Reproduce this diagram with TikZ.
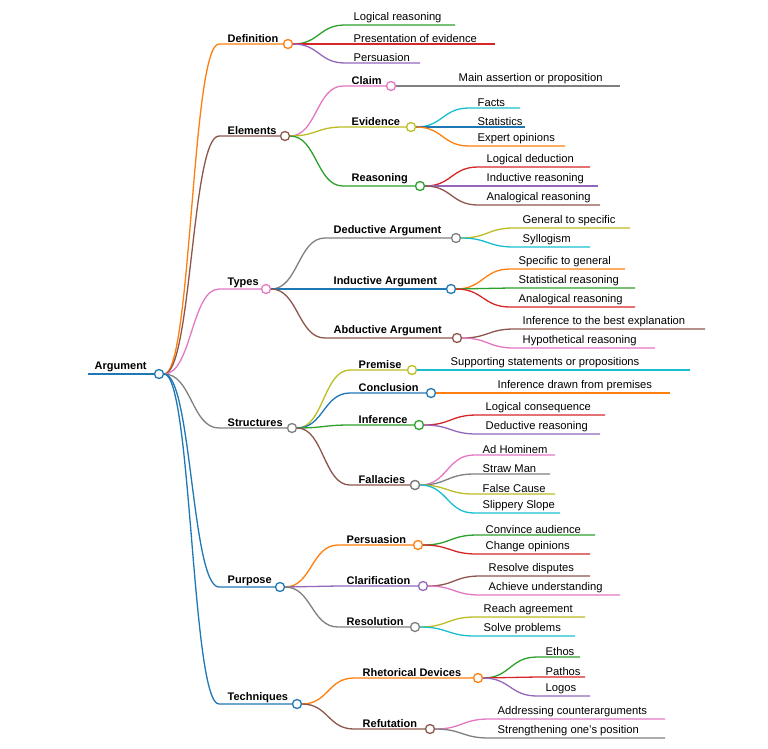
\documentclass[tikz,border=0pt]{standalone}
\usepackage{fontspec}
\setmainfont{Liberation Sans}
\usetikzlibrary{calc}
\definecolor{cO}{RGB}{255,127,14}
\definecolor{cBr}{RGB}{140,86,75}
\definecolor{cPk}{RGB}{227,119,194}
\definecolor{cGy}{RGB}{127,127,127}
\definecolor{cOl}{RGB}{188,189,34}
\definecolor{cCy}{RGB}{23,190,207}
\definecolor{cBl}{RGB}{31,119,180}
\definecolor{cGn}{RGB}{44,160,44}
\definecolor{cRd}{RGB}{214,39,40}
\definecolor{cPu}{RGB}{148,103,189}
\tikzset{
  mmline/.style={line width=1.3pt},
  mmtext/.style={anchor=south west,inner sep=1.5pt,font=\fontsize{11.2}{13}\selectfont},
  mmcirc/.style={circle,line width=1.3pt,fill=white,minimum size=9pt,inner sep=0pt}
}
\newcommand\mmleaf[7]{%
  \coordinate (#2s) at (#3,#5);
  \coordinate (#2m) at ($(#1.east)!0.5!(#2s)$);
  \draw[mmline,#6] (#1.east) .. controls (#2m |- #1.east) and (#2m |- #2s) .. (#2s) -- (#4,#5);
  \node[mmtext] (#2t) at ($(#2s)+(7,0)$) {#7};
}
\newcommand\mmbr[7]{%
  \coordinate (#2s) at (#3,#5);
  \coordinate (#2m) at ($(#1.east)!0.5!(#2s)$);
  \draw[mmline,#6] (#1.east) .. controls (#2m |- #1.east) and (#2m |- #2s) .. (#2s) -- (#4,#5);
  \node[mmtext,font=\fontsize{11}{13}\selectfont\bfseries] (#2t) at ($(#2s)+(7,0)$) {#7};
  \node[mmcirc,draw=#6] (#2) at (#4,#5) {};
}
\begin{document}
\begin{tikzpicture}[x=1pt,y=-1pt]
\useasboundingbox (0,0) rectangle (768,748);
\draw[mmline,cBl] (88,374) -- (159,374);
\node[mmtext,font=\fontsize{11}{13}\selectfont\bfseries] (roott) at (93,374) {Argument};
\node[mmcirc,draw=cBl] (root) at (159,374) {};
% level 1
\mmbr{root}{def}{219}{288}{44}{cO}{Definition}
\mmbr{root}{ele}{219}{285}{136}{cBr}{Elements}
\mmbr{root}{typ}{219}{266}{289}{cPk}{Types}
\mmbr{root}{str}{219}{292}{428}{cGy}{Structures}
\mmbr{root}{pur}{219}{280}{587}{cBl}{Purpose}
\mmbr{root}{tec}{219}{297}{704}{cBl}{Techniques}
% Definition
\mmleaf{def}{d1}{345}{455}{25}{cGn}{Logical reasoning}
\mmleaf{def}{d2}{345}{495}{44}{cRd}{Presentation of evidence}
\mmleaf{def}{d3}{345}{420}{63}{cPu}{Persuasion}
% Elements
\mmbr{ele}{cla}{343}{391}{86}{cPk}{Claim}
\mmbr{ele}{evi}{343}{411}{127}{cOl}{Evidence}
\mmbr{ele}{rea}{343}{420}{186}{cGn}{Reasoning}
\mmleaf{cla}{c1}{450}{620}{86}{cGy}{Main assertion or proposition}
\mmleaf{evi}{e1}{469}{520}{108}{cCy}{Facts}
\mmleaf{evi}{e2}{469}{525}{127}{cBl}{Statistics}
\mmleaf{evi}{e3}{469}{565}{146}{cO}{Expert opinions}
\mmleaf{rea}{r1}{478}{590}{167}{cRd}{Logical deduction}
\mmleaf{rea}{r2}{478}{598}{186}{cPu}{Inductive reasoning}
\mmleaf{rea}{r3}{478}{600}{205}{cBr}{Analogical reasoning}
% Types
\mmbr{typ}{ded}{325}{456}{238}{cGy}{Deductive Argument}
\mmbr{typ}{ind}{325}{451}{289}{cBl}{Inductive Argument}
\mmbr{typ}{abd}{325}{457}{338}{cBr}{Abductive Argument}
\mmleaf{ded}{t1}{514}{630}{228}{cOl}{General to specific}
\mmleaf{ded}{t2}{514}{590}{247}{cCy}{Syllogism}
\mmleaf{ind}{t3}{510}{625}{269}{cO}{Specific to general}
\mmleaf{ind}{t4}{510}{635}{288}{cGn}{Statistical reasoning}
\mmleaf{ind}{t5}{510}{635}{307}{cRd}{Analogical reasoning}
\mmleaf{abd}{t6}{514}{705}{329}{cBr}{Inference to the best explanation}
\mmleaf{abd}{t7}{514}{655}{348}{cPk}{Hypothetical reasoning}
% Structures
\mmbr{str}{pre}{350}{412}{370}{cOl}{Premise}
\mmbr{str}{con}{350}{431}{393}{cBl}{Conclusion}
\mmbr{str}{inf}{350}{419}{425}{cGn}{Inference}
\mmbr{str}{fal}{350}{415}{485}{cBr}{Fallacies}
\node[mmcirc,draw=cGy] at (fal) {};
\mmleaf{pre}{s1}{442}{690}{370}{cCy}{Supporting statements or propositions}
\mmleaf{con}{s2}{489}{670}{393}{cO}{Inference drawn from premises}
\mmleaf{inf}{s3}{477}{605}{415}{cRd}{Logical consequence}
\mmleaf{inf}{s4}{477}{600}{434}{cPu}{Deductive reasoning}
\mmleaf{fal}{s5}{474}{555}{455}{cPk}{Ad Hominem}
\mmleaf{fal}{s6}{474}{550}{474}{cGy}{Straw Man}
\mmleaf{fal}{s7}{474}{555}{494}{cOl}{False Cause}
\mmleaf{fal}{s8}{474}{560}{513}{cCy}{Slippery Slope}
% Purpose
\mmbr{pur}{ps}{338}{418}{545}{cO}{Persuasion}
\mmbr{pur}{cl}{338}{423}{586}{cPu}{Clarification}
\mmbr{pur}{rs}{338}{415}{627}{cGy}{Resolution}
\mmleaf{ps}{p1}{477}{595}{535}{cGn}{Convince audience}
\mmleaf{ps}{p2}{477}{590}{554}{cRd}{Change opinions}
\mmleaf{cl}{p3}{480}{590}{576}{cBr}{Resolve disputes}
\mmleaf{cl}{p4}{480}{620}{595}{cPk}{Achieve understanding}
\mmleaf{rs}{p5}{475}{585}{617}{cOl}{Reach agreement}
\mmleaf{rs}{p6}{475}{575}{636}{cCy}{Solve problems}
% Techniques
\mmbr{tec}{rhe}{354}{478}{678}{cO}{Rhetorical Devices}
\mmbr{tec}{ref}{354}{430}{729}{cBr}{Refutation}
\mmleaf{rhe}{q1}{537}{580}{657}{cGn}{Ethos}
\mmleaf{rhe}{q2}{537}{585}{677}{cRd}{Pathos}
\mmleaf{rhe}{q3}{537}{590}{696}{cPu}{Logos}
\mmleaf{ref}{q4}{489}{665}{719}{cPk}{Addressing counterarguments}
\mmleaf{ref}{q5}{489}{665}{738}{cGy}{Strengthening one's position}
\end{tikzpicture}
\end{document}
